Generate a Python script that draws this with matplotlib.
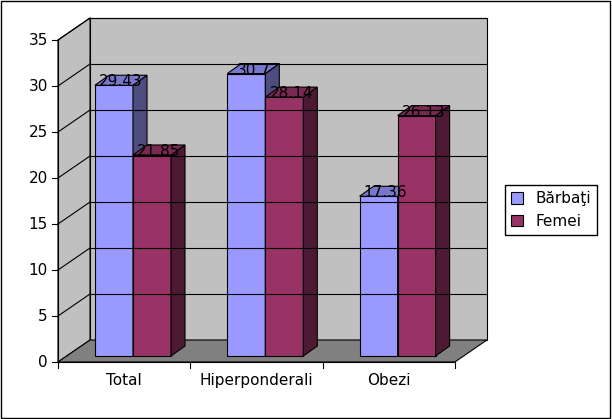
import matplotlib
matplotlib.use("Agg")
import matplotlib.pyplot as plt
from matplotlib.patches import Polygon, Rectangle

categories = ["Total", "Hiperponderali", "Obezi"]
barbati = [29.43, 30.7, 17.36]
femei = [21.85, 28.14, 26.13]
series_names = ["Bărbaţi", "Femei"]
front_colors = ["#9999FF", "#993366"]
side_colors = ["#4D4D80", "#4D1A33"]
top_colors = ["#7777CC", "#7A2952"]

W, H = 612, 419
XS = 132.3          # px per category
X0 = 124            # px of first category center (front plane)
YS = 9.2            # px per unit
Y0 = 57             # px from bottom for value 0

fig = plt.figure(figsize=(W / 100, H / 100), dpi=100)
ax = fig.add_axes([0, 0, 1, 1])
ax.set_xlim(-X0 / XS, (W - X0) / XS)
ax.set_ylim(-Y0 / YS, (H - Y0) / YS)
ax.axis("off")

def px(dx, dy):
    return dx / XS, dy / YS

# walls
wx, wy = px(32, 22)
left = -66 / XS
right = left + 3
ax.add_patch(Polygon([(left + wx, wy), (right + wx, wy), (right + wx, 35 + wy), (left + wx, 35 + wy)],
                     facecolor="#C0C0C0", edgecolor="black", lw=0.8))
ax.add_patch(Polygon([(left, 0), (left + wx, wy), (left + wx, 35 + wy), (left, 35)],
                     facecolor="#C0C0C0", edgecolor="black", lw=0.8))
ax.add_patch(Polygon([(left, 0), (right, 0), (right + wx, wy), (left + wx, wy)],
                     facecolor="#808080", edgecolor="black", lw=0.8))
for v in range(5, 40, 5):
    ax.plot([left + wx, right + wx], [v + wy, v + wy], color="black", lw=0.8)
    ax.plot([left, left + wx], [v, v + wy], color="black", lw=0.8)

# axes lines and ticks
ax.plot([left, left], [0, 35], color="black", lw=0.8)
ax.plot([left, right], [0, 0], color="black", lw=0.8)
tk = 6 / XS
for v in range(0, 40, 5):
    ax.plot([left - tk, left], [v, v], color="black", lw=0.8)
    ax.text(left - 10 / XS, v, str(v), ha="right", va="center", fontsize=11)
for k in range(4):
    ax.plot([left + k, left + k], [0, -6 / YS], color="black", lw=0.8)
for i, c in enumerate(categories):
    ax.text(i, -11 / YS, c, ha="center", va="top", fontsize=11)

# bars
bw = 38 / XS
ox, oy = px(9, 6)
dx, dy = px(14, 10)
for s, vals in enumerate([barbati, femei]):
    for i, v in enumerate(vals):
        x0 = i - bw + s * bw + ox
        x1 = x0 + bw
        b, t = oy, v + oy
        ax.add_patch(Polygon([(x0, b), (x1, b), (x1, t), (x0, t)],
                             facecolor=front_colors[s], edgecolor="black", lw=0.8))
        ax.add_patch(Polygon([(x1, b), (x1 + dx, b + dy), (x1 + dx, t + dy), (x1, t)],
                             facecolor=side_colors[s], edgecolor="black", lw=0.8))
        ax.add_patch(Polygon([(x0, t), (x1, t), (x1 + dx, t + dy), (x0 + dx, t + dy)],
                             facecolor=top_colors[s], edgecolor="black", lw=0.8))
        ax.text((x0 + x1) / 2 + dx / 2, t - 4 / YS, f"{v:g}", ha="center", va="bottom", fontsize=11)

handles = [Rectangle((0, 0), 1, 1, facecolor=front_colors[s], edgecolor="black", lw=0.8) for s in range(2)]
fig.legend(handles, series_names, loc="center left", bbox_to_anchor=(505 / W, 1 - 210 / H),
           fancybox=False, edgecolor="black", fontsize=11, handlelength=0.8, handleheight=0.8,
           borderaxespad=0, framealpha=1)

fig.patches.append(Rectangle((0.002, 0.003), 0.995, 0.994, transform=fig.transFigure,
                             fill=False, edgecolor="black", lw=1))
fig.savefig("out.png", dpi=100)
